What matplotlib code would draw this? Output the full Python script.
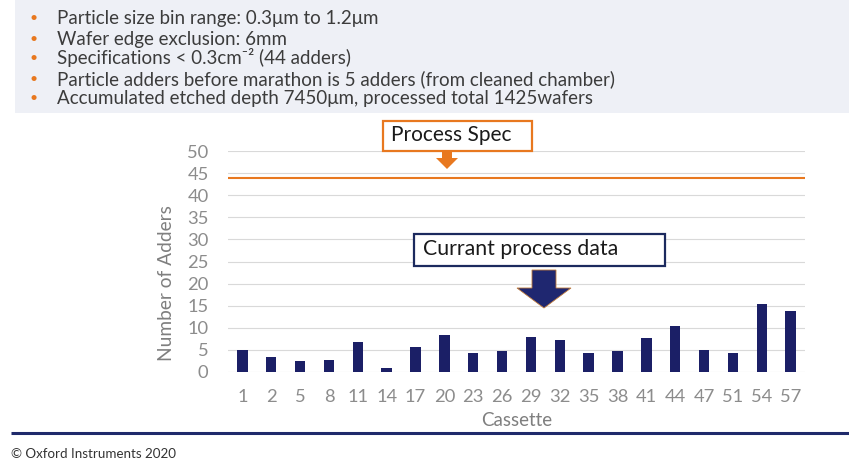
import matplotlib
matplotlib.use("Agg")
import matplotlib.pyplot as plt
from matplotlib.patches import Rectangle, Polygon

plt.rcParams['font.family'] = ['Lato', 'DejaVu Sans']

cassettes = ["1", "2", "5", "8", "11", "14", "17", "20", "23", "26",
             "29", "32", "35", "38", "41", "44", "47", "51", "54", "57"]
adders = [4.9, 3.3, 2.4, 2.7, 6.7, 0.9, 5.6, 8.3, 4.4, 4.8,
          8.0, 7.3, 4.4, 4.8, 7.6, 10.3, 4.9, 4.4, 15.4, 13.8]
spec_limit = 44
y_ticks = [0, 5, 10, 15, 20, 25, 30, 35, 40, 45, 50]
bullets = [
    "Particle size bin range: 0.3\u03bcm to 1.2\u03bcm",
    "Wafer edge exclusion: 6mm",
    "Specifications < 0.3cm\u207b\u00b2 (44 adders)",
    "Particle adders before marathon is 5 adders (from cleaned chamber)",
    "Accumulated etched depth 7450\u03bcm, processed total 1425wafers",
]

NAVY = "#1b1f66"
ORANGE = "#e8781f"
GRAY_TXT = "#7f7f7f"
W, H = 849, 472

fig = plt.figure(figsize=(W / 100, H / 100), dpi=100)
fig.patch.set_facecolor("white")

# overlay in pixel coordinates
ov = fig.add_axes([0, 0, 1, 1], zorder=0)
ov.set_xlim(0, W)
ov.set_ylim(H, 0)
ov.axis("off")

# top info box
ov.add_patch(Rectangle((15, 0), W - 15, 113, facecolor="#eef0f6", edgecolor="none"))
line_y = [18, 39, 58, 79, 98]
for y, t in zip(line_y, bullets):
    ov.text(34, y, "\u2022", color=ORANGE, fontsize=10, va="center", ha="center")
    ov.text(57, y + 6, t, color="#3c3c3c", fontsize=13.5, va="baseline", ha="left")

# chart axes
ax = fig.add_axes([228 / W, 1 - 372 / H, (805 - 228) / W, (372 - 151) / H], zorder=1)
ax.patch.set_alpha(0)
x = list(range(len(cassettes)))
ax.bar(x, adders, width=0.36, color=NAVY, zorder=3)
ax.axhline(spec_limit, color=ORANGE, lw=1.5, zorder=4)
ax.set_xlim(-0.5, len(cassettes) - 0.5)
ax.set_ylim(0, 50)
ax.set_yticks(y_ticks)
ax.set_xticks(x)
ax.set_xticklabels(cassettes)
ax.grid(axis="y", color="#d9d9d9", lw=0.8, zorder=0)
for s in ax.spines.values():
    s.set_visible(False)
ax.tick_params(axis="both", length=0, labelsize=13.2, colors="#8c8c8c")
ax.tick_params(axis="y", pad=14)
ax.tick_params(axis="x", pad=12)
ax.set_xlabel("Cassette", fontsize=13.5, color=GRAY_TXT, labelpad=5)

fig.text(166 / W, 1 - 283 / H, "Number of Adders", rotation=90, fontsize=13.8,
         color=GRAY_TXT, ha="center", va="center")

# annotations (drawn on a top overlay)
top = fig.add_axes([0, 0, 1, 1], zorder=5)
top.set_xlim(0, W)
top.set_ylim(H, 0)
top.axis("off")

top.add_patch(Rectangle((383, 121), 149, 30, facecolor="white", edgecolor=ORANGE, lw=1.6))
top.text(391, 135, "Process Spec", fontsize=15, color="#1a1a1a", va="center", ha="left")
top.add_patch(Polygon([(442, 152), (452, 152), (452, 158), (458, 158), (447, 169),
                       (436, 158), (442, 158)], closed=True, facecolor=ORANGE, edgecolor="none"))

top.add_patch(Rectangle((414, 234), 251, 32, facecolor="white", edgecolor="#1c2a5e", lw=1.6))
top.text(423, 249, "Currant process data", fontsize=15.3, color="#1a1a1a", va="center", ha="left")
top.add_patch(Polygon([(532, 270), (556, 270), (556, 288), (571, 288), (544, 308),
                       (517, 288), (532, 288)], closed=True, facecolor="#1f2770",
                      edgecolor="#c07a3a", lw=0.6))

# footer
top.plot([11, W], [433, 433], color="#1f2a6b", lw=2.2, solid_capstyle="butt")
top.text(11, 454, "\u00a9 Oxford Instruments 2020", fontsize=9.6, color="#333333",
         va="center", ha="left")

fig.savefig("out.png", dpi=100)
